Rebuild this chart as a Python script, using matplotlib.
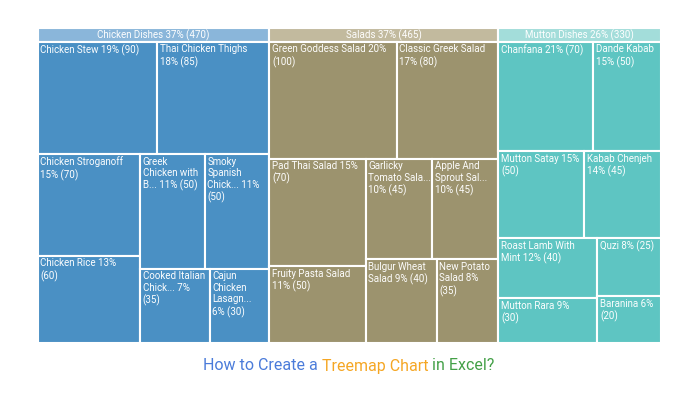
import matplotlib
matplotlib.use("Agg")
import matplotlib.pyplot as plt
from matplotlib.patches import Rectangle

groups = ["Chicken Dishes", "Salads", "Mutton Dishes"]
group_labels = ["Chicken Dishes 37% (470)", "Salads 37% (465)", "Mutton Dishes 26% (330)"]
chicken_values = [90, 85, 70, 60, 50, 50, 35, 30]
chicken_labels = ["Chicken Stew 19% (90)", "Thai Chicken Thighs\n18% (85)",
                  "Chicken Stroganoff\n15% (70)", "Chicken Rice 13%\n(60)",
                  "Greek\nChicken with\nB... 11% (50)", "Smoky\nSpanish\nChick... 11%\n(50)",
                  "Cooked Italian\nChick... 7%\n(35)", "Cajun\nChicken\nLasagn...\n6% (30)"]
salad_values = [100, 80, 70, 50, 45, 45, 40, 35]
salad_labels = ["Green Goddess Salad 20%\n(100)", "Classic Greek Salad\n17% (80)",
                "Pad Thai Salad 15%\n(70)", "Fruity Pasta Salad\n11% (50)",
                "Garlicky\nTomato Sala...\n10% (45)", "Apple And\nSprout Sal...\n10% (45)",
                "Bulgur Wheat\nSalad 9% (40)", "New Potato\nSalad 8%\n(35)"]
mutton_values = [70, 50, 50, 45, 40, 30, 25, 20]
mutton_labels = ["Chanfana 21% (70)", "Dande Kabab\n15% (50)",
                 "Mutton Satay 15%\n(50)", "Kabab Chenjeh\n14% (45)",
                 "Roast Lamb With\nMint 12% (40)", "Mutton Rara 9%\n(30)",
                 "Quzi 8% (25)", "Baranina 6%\n(20)"]

body_colors = ["#4A90C4", "#9C936E", "#5EC5C2"]
head_colors = ["#8AB6DA", "#C2BA9E", "#A3DDDA"]


def pair_layout(vals, x, y, w, h):
    scale = w * h / sum(vals)
    areas = [v * scale for v in vals]
    rects = []
    i = 0
    while i < len(areas):
        row = areas[i:i + 2]
        last = i + 2 >= len(areas)
        s = sum(row)
        horizontal = (w <= h) if not last else (w >= h)
        if last:
            if horizontal:
                rh = h
            else:
                rw = w
        if horizontal:
            rh = s / w
            cx = x
            for a in row:
                rects.append((cx, y, a / rh, rh)); cx += a / rh
            y += rh; h -= rh
        else:
            rw = s / h
            cy = y
            for a in row:
                rects.append((x, cy, rw, a / rw)); cy += a / rw
            x += rw; w -= rw
        i += 2
    return rects


fig = plt.figure(figsize=(6.98, 4.0), dpi=100)
ax = fig.add_axes([0, 0, 1, 1])
ax.set_xlim(0, 698); ax.set_ylim(400, 0); ax.axis("off")

X0, X1, Y0, Y1, HH = 38, 661, 28, 343, 14
all_vals = [chicken_values, salad_values, mutton_values]
all_labels = [chicken_labels, salad_labels, mutton_labels]
gtot = [sum(v) for v in all_vals]
gx = X0
font = "Roboto"
for gi in range(3):
    gw = (X1 - X0) * gtot[gi] / sum(gtot)
    ax.add_patch(Rectangle((gx, Y0), gw, HH, facecolor=head_colors[gi], edgecolor="white", lw=1.5))
    ax.text(gx + gw / 2, Y0 + HH / 2, group_labels[gi], ha="center", va="center",
            color="white", fontsize=7, family=font)
    for (rx, ry, rw, rh), lab in zip(pair_layout(all_vals[gi], gx, Y0 + HH, gw, Y1 - Y0 - HH), all_labels[gi]):
        ax.add_patch(Rectangle((rx, ry), rw, rh, facecolor=body_colors[gi], edgecolor="white", lw=1.5))
        ax.text(rx + 2.5, ry + 2.5, lab, ha="left", va="top", color="white", fontsize=7,
                family=font, linespacing=1.2, clip_on=True)
    gx += gw

parts = [("How to Create a ", "#4A7BDA"), ("Treemap Chart", "#F5A623"), (" in Excel?", "#43A047")]
fig.canvas.draw()
r = fig.canvas.get_renderer()
texts = []
for s, c in parts:
    t = ax.text(0, 366, s, color=c, fontsize=11.5, family=font, ha="left", va="center")
    texts.append(t)
widths = [t.get_window_extent(r).width for t in texts]
start = 349 - sum(widths) / 2
for t, wd in zip(texts, widths):
    t.set_x(start); start += wd
fig.savefig("out.png", dpi=100)
